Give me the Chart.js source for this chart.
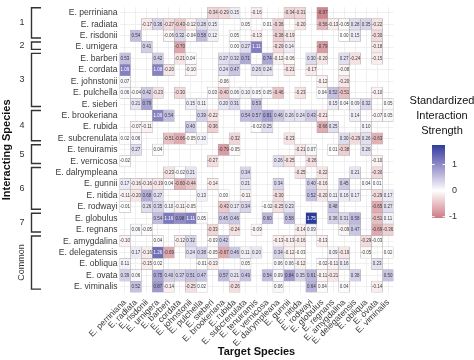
<!DOCTYPE html>
<html>
<head>
<meta charset="utf-8">
<script src="https://cdn.jsdelivr.net/npm/chart.js@4"></script>
<style>
  html, body { margin: 0; padding: 0; background: #fff; }
  #wrap { width: 474px; height: 360px; }
</style>
</head>
<body>
<div id="wrap"><canvas id="heat"></canvas></div>
<script>
const n = null;

const species = ['E. perriniana', 'E. radiata', 'E. risdonii', 'E. urnigera', 'E. barberi',
  'E. cordata', 'E. johnstonii', 'E. pulchella', 'E. sieberi', 'E. brookeriana', 'E. rubida',
  'E. subcrenulata', 'E. tenuiramis', 'E. vernicosa', 'E. dalrympleana', 'E. gunnii', 'E. nitida',
  'E. rodwayi', 'E. globulus', 'E. regnans', 'E. amygdalina', 'E. delegatensis', 'E. obliqua',
  'E. ovata', 'E. viminalis'];

// rows = interacting species, columns = target species
const strength = [
  [n, n, n, n, n, n, n, n, -0.34, -0.29, 0.15, n, -0.16, n, n, -0.34, -0.31, n, -0.97, n, n, n, n, n, n],
  [n, n, -0.17, 0.36, -0.27, -0.43, -0.12, 0.28, 0.15, n, n, 0.05, n, 0.01, -0.36, n, -0.20, n, -0.56, -0.13, -0.05, 0.28, 0.35, -0.22, n],
  [n, 0.54, n, n, -0.06, 0.32, -0.04, 0.58, 0.12, n, 0.05, n, -0.13, n, -0.38, -0.19, n, n, n, n, 0.00, 0.15, n, -0.30, n],
  [n, n, 0.41, n, n, -0.70, n, n, n, n, 0.00, 0.27, 1.11, n, -0.29, 0.14, n, n, -0.79, n, n, n, n, -0.18, n],
  [0.53, n, n, 0.42, n, -0.21, 0.04, n, n, 0.27, 0.32, 0.71, n, 0.74, -0.12, -0.06, n, 0.30, -0.20, n, 0.27, -0.24, n, -0.15, n],
  [1.09, n, n, 1.08, -0.20, n, -0.10, n, n, 0.24, 0.47, n, 0.26, 0.24, n, -0.21, n, -0.17, n, n, -0.08, n, n, n, n],
  [0.07, n, n, n, n, n, n, n, n, -0.06, n, n, n, n, n, n, n, n, -0.12, n, -0.20, n, n, n, n],
  [0.06, -0.04, 0.42, -0.23, n, -0.30, n, n, 0.03, -0.40, 0.06, 0.10, 0.05, 0.05, -0.46, n, -0.23, n, 0.04, 0.52, -0.51, n, n, -0.10, n],
  [n, 0.21, 0.79, n, n, n, 0.15, 0.11, n, 0.20, 0.31, n, 0.53, n, n, n, n, n, n, 0.15, 0.04, 0.09, 0.32, n, 0.05],
  [n, n, n, 1.06, 0.54, n, n, 0.39, -0.22, n, n, 0.54, 0.57, 0.81, 0.46, 0.26, 0.24, 0.43, -0.21, n, n, 0.14, n, -0.07, 0.05],
  [n, -0.07, -0.11, n, n, n, 0.40, n, -0.36, n, n, n, -0.02, 0.25, n, n, n, n, -0.66, 0.25, n, n, 0.10, n, n],
  [0.02, 0.06, n, n, -0.51, -0.66, -0.05, 0.10, n, n, -0.32, n, n, n, n, -0.23, n, n, n, n, 0.30, -0.29, 0.26, -0.63, n],
  [n, 0.27, n, 0.04, n, n, n, n, n, -0.79, -0.05, n, n, n, n, n, -0.21, 0.07, n, 0.01, -0.38, n, 0.26, n, n],
  [-0.02, n, n, n, n, n, n, n, -0.27, n, n, n, n, n, 0.26, -0.25, n, -0.26, n, n, n, n, n, -0.10, n],
  [n, n, n, n, -0.23, -0.02, 0.21, n, n, n, n, 0.34, n, n, n, n, -0.25, n, -0.22, n, n, 0.21, n, -0.30, n],
  [0.17, -0.16, -0.16, -0.19, 0.04, -0.60, -0.44, n, -0.14, n, n, 0.21, n, n, 0.34, n, n, 0.40, -0.16, n, 0.45, n, 0.04, 0.01, n],
  [-0.11, -0.20, 0.68, 0.27, n, n, n, 0.13, n, -0.00, n, -0.11, n, n, -0.30, n, n, 0.52, -0.20, 0.11, 0.16, 0.17, n, -0.29, 0.17],
  [-0.01, n, 0.26, 0.35, 0.10, -0.11, -0.05, n, n, -0.43, 0.17, 0.34, n, -0.02, -0.25, 0.23, n, n, n, 0.48, n, n, n, -0.65, 0.27],
  [n, n, n, 0.54, 1.16, 0.98, 1.11, 0.05, n, 0.45, 0.46, n, n, 0.60, n, 0.58, n, 1.75, n, 0.36, 0.31, 0.58, n, -0.51, 0.11],
  [n, 0.06, -0.05, n, n, n, n, n, -0.33, n, -0.24, n, -0.09, n, n, n, -0.14, 0.09, n, n, -0.09, 0.47, n, -0.69, -0.36],
  [-0.10, n, n, 0.04, n, -0.12, 0.32, n, -0.03, 0.42, n, n, n, n, -0.13, -0.13, -0.16, n, -0.13, n, n, n, -0.29, -0.03, n],
  [n, 0.17, -0.16, 1.26, -0.69, n, 0.24, 0.38, -0.05, -0.67, 0.46, 0.11, 0.20, n, 0.34, -0.12, -0.03, n, n, 0.09, -0.19, n, -0.05, n, 0.02],
  [0.11, n, -0.15, 0.02, n, n, n, -0.01, -0.13, n, n, 0.05, n, n, 0.06, 0.06, -0.12, n, -0.02, -0.11, 0.16, n, n, 0.23, n],
  [0.39, 0.06, n, 0.75, 0.40, 0.37, 0.51, 0.47, n, 0.57, 0.21, 0.49, n, 0.54, 0.09, 0.84, 0.35, 0.61, -0.11, -0.21, n, 0.38, n, n, 0.50],
  [n, 0.52, n, 0.87, -0.14, n, -0.25, 0.02, n, n, -0.26, n, n, n, 0.06, n, n, 0.64, 0.04, n, 0.04, n, n, -0.14, n]
];

const groupNames = ['1', '2', '3', '4', '5', '6', '7', 'Common'];
const groupFirst = [0, 3, 4, 9, 12, 14, 18, 20];
const groupLast = [2, 3, 8, 11, 13, 17, 19, 24];

const legendTicks = [1, 0, -1];
const legendLimits = [-1.05, 1.75];

// colour scale: low - white - high, interpolated in Lab
const lowCol = '#9b1b3f', highCol = '#2b3d9c', scaleMax = 1.75;

function lin(c) { c /= 255; return c <= 0.04045 ? c / 12.92 : Math.pow((c + 0.055) / 1.055, 2.4); }
function gam(c) { c = c <= 0.0031308 ? 12.92 * c : 1.055 * Math.pow(c, 1 / 2.4) - 0.055; return Math.round(Math.max(0, Math.min(1, c)) * 255); }
function toLab(hex) {
  const r = lin(parseInt(hex.slice(1, 3), 16)), g = lin(parseInt(hex.slice(3, 5), 16)), b = lin(parseInt(hex.slice(5, 7), 16));
  const f = t => t > 0.008856 ? Math.cbrt(t) : 7.787 * t + 16 / 116;
  const fx = f((0.4124 * r + 0.3576 * g + 0.1805 * b) / 0.95047);
  const fy = f(0.2126 * r + 0.7152 * g + 0.0722 * b);
  const fz = f((0.0193 * r + 0.1192 * g + 0.9505 * b) / 1.08883);
  return [116 * fy - 16, 500 * (fx - fy), 200 * (fy - fz)];
}
function fromLab(L, A, B) {
  const fy = (L + 16) / 116, fx = fy + A / 500, fz = fy - B / 200;
  const fi = t => t * t * t > 0.008856 ? t * t * t : (t - 16 / 116) / 7.787;
  const x = fi(fx) * 0.95047, y = fi(fy), z = fi(fz) * 1.08883;
  return 'rgb(' + gam(3.2406 * x - 1.5372 * y - 0.4986 * z) + ',' +
    gam(-0.9689 * x + 1.8758 * y + 0.0415 * z) + ',' + gam(0.0557 * x - 0.2040 * y + 1.0570 * z) + ')';
}
const labWhite = toLab('#ffffff'), labLow = toLab(lowCol), labHigh = toLab(highCol);
function fillFor(v) {
  const t = Math.min(1, Math.abs(v) / scaleMax);
  const end = v < 0 ? labLow : labHigh;
  return fromLab(...labWhite.map((w, i) => w + (end[i] - w) * t));
}

const FONT = '"Liberation Sans", Arial, sans-serif';

const datasets = strength.map((row, r) => ({
  data: row.map((v, c) => v === null ? null : { x: species[c], y: [r - 0.5, r + 0.5], v: v }).filter(d => d),
  backgroundColor: ctx => fillFor(ctx.raw.v),
  borderColor: '#a6a6a6',
  borderWidth: 0.5,
  borderSkipped: false,
  grouped: false,
  barPercentage: 1,
  categoryPercentage: 1
}));

const overlay = {
  id: 'overlay',
  afterDatasetsDraw(chart) {
    const ctx = chart.ctx;
    ctx.save();
    ctx.font = '4.5px ' + FONT;
    ctx.textAlign = 'center';
    ctx.textBaseline = 'middle';
    chart.data.datasets.forEach((ds, i) => {
      chart.getDatasetMeta(i).data.forEach((bar, j) => {
        const v = ds.data[j].v;
        ctx.fillStyle = v > 1 ? '#ffffff' : '#3a3a3a';
        ctx.fillText(v.toFixed(2), bar.x, (bar.y + bar.base) / 2);
      });
    });
    ctx.restore();
  },
  afterDraw(chart) {
    const ctx = chart.ctx, ys = chart.scales.y;
    ctx.save();
    // group brackets
    ctx.strokeStyle = '#333';
    ctx.lineWidth = 1.4;
    ctx.fillStyle = '#333';
    ctx.font = '9px ' + FONT;
    ctx.textAlign = 'center';
    ctx.textBaseline = 'middle';
    groupNames.forEach((g, i) => {
      const y0 = ys.getPixelForValue(groupFirst[i] - 0.45);
      const y1 = ys.getPixelForValue(groupLast[i] + 0.2);
      ctx.beginPath();
      ctx.moveTo(41, y0); ctx.lineTo(31.5, y0); ctx.lineTo(31.5, y1); ctx.lineTo(41, y1);
      ctx.stroke();
      const yc = (y0 + y1) / 2;
      if (g.length > 1) {
        ctx.save();
        ctx.translate(22, yc);
        ctx.rotate(-Math.PI / 2);
        ctx.fillText(g, 0, 0);
        ctx.restore();
      } else {
        ctx.fillText(g, 22, yc);
      }
    });

    // colour bar legend
    ctx.fillStyle = '#111';
    ctx.font = '11px ' + FONT;
    ['Standardized', 'Interaction', 'Strength'].forEach((t, i) => ctx.fillText(t, 442, 101 + i * 15));
    const bx = 432, bw = 13, top = 145, bottom = 218;
    const toY = v => bottom - (v - legendLimits[0]) / (legendLimits[1] - legendLimits[0]) * (bottom - top);
    for (let y = top; y < bottom; y++) {
      const v = legendLimits[1] - (y + 0.5 - top) / (bottom - top) * (legendLimits[1] - legendLimits[0]);
      ctx.fillStyle = fillFor(v);
      ctx.fillRect(bx, y, bw, 1);
    }
    ctx.strokeStyle = '#ffffff';
    ctx.lineWidth = 1;
    ctx.fillStyle = '#333';
    ctx.font = '9px ' + FONT;
    ctx.textAlign = 'left';
    legendTicks.forEach(t => {
      const y = toY(t);
      ctx.beginPath();
      ctx.moveTo(bx, y); ctx.lineTo(bx + 2.5, y);
      ctx.moveTo(bx + bw - 2.5, y); ctx.lineTo(bx + bw, y);
      ctx.stroke();
      ctx.fillText(String(t), t < 0 ? 449 : 452, y);
    });
    ctx.restore();
  }
};

new Chart(document.getElementById('heat'), {
  type: 'bar',
  data: { labels: species, datasets: datasets },
  options: {
    responsive: true,
    maintainAspectRatio: false,
    animation: false,
    events: [],
    layout: { padding: { top: 1.5, right: 80.5, left: 0, bottom: 0 } },
    plugins: { legend: { display: false }, tooltip: { enabled: false } },
    scales: {
      x: {
        type: 'category',
        offset: true,
        border: { display: false },
        grid: { color: '#e6e6e6', lineWidth: 0.6, offset: false, drawTicks: false },
        ticks: {
          autoSkip: false, maxRotation: 45, minRotation: 45, padding: 5,
          color: '#3a3a3a', font: { family: FONT, size: 8.6 }
        },
        title: {
          display: true, text: 'Target Species', color: '#111',
          font: { family: FONT, size: 11, weight: 'bold' }, padding: { top: 0, bottom: 1 }
        },
        afterFit: s => { s.height = 67.5; }
      },
      y: {
        type: 'linear',
        reverse: true,
        min: -0.5,
        max: 24.5,
        border: { display: false },
        grid: { color: '#e6e6e6', lineWidth: 0.6, drawTicks: false },
        afterBuildTicks: s => { s.ticks = species.map((_, i) => ({ value: i })); },
        ticks: {
          autoSkip: false, padding: 2, color: '#3a3a3a',
          font: { family: FONT, size: 8.6 },
          callback: v => species[v]
        },
        title: {
          display: true, text: 'Interacting Species', color: '#111',
          font: { family: FONT, size: 11, weight: 'bold' }, padding: { top: 0, bottom: 0 }
        },
        afterFit: s => { s.width = 119.5; }
      }
    }
  },
  plugins: [overlay]
});
</script>
</body>
</html>
